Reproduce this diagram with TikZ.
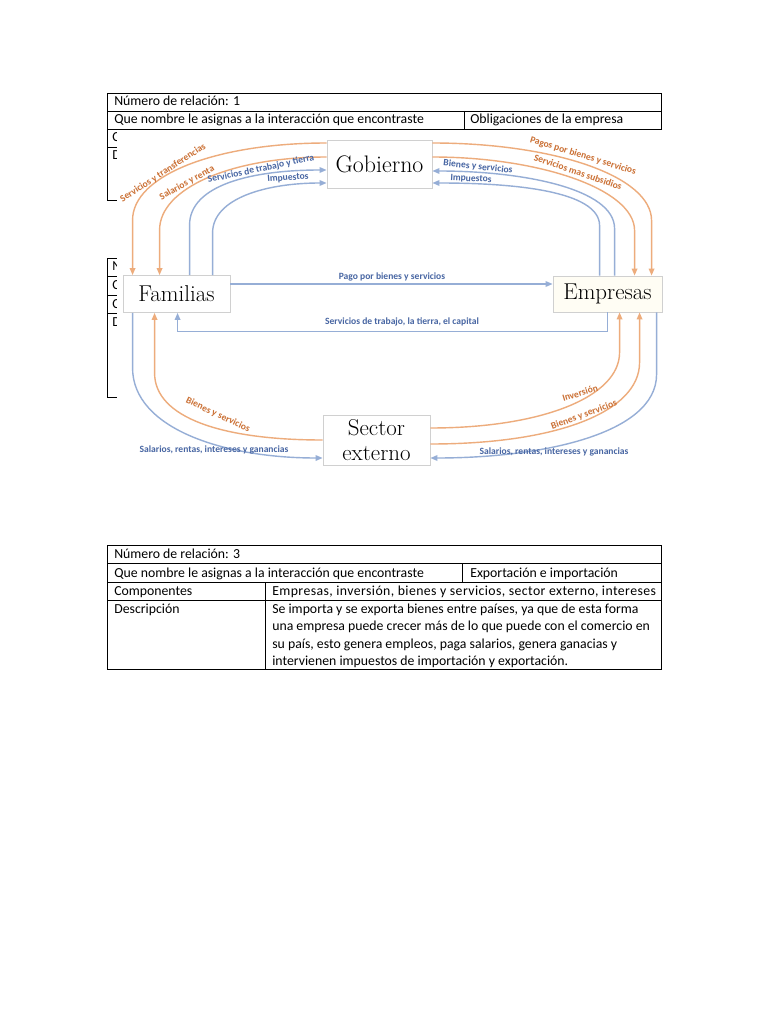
\documentclass[tikz,border=0pt]{standalone}
\usepackage{fontspec}
\newfontfamily\calfont{Carlito}
\usetikzlibrary{calc,arrows.meta}
\definecolor{FlowOrange}{RGB}{237,172,124}
\definecolor{LabOrange}{RGB}{203,112,52}
\definecolor{FlowBlue}{RGB}{150,174,214}
\definecolor{LabBlue}{RGB}{72,102,163}
\definecolor{BoxLine}{RGB}{208,208,208}
\definecolor{BoxCream}{RGB}{255,253,244}

\begin{document}
\begin{tikzpicture}[x=0.025cm,y=0.025cm,
  grid/.style={draw=black,line width=0.6pt},
  cell/.style={anchor=base west,inner sep=0,font=\calfont\fontsize{9.8}{12.4}\selectfont},
  sbox/.style={draw=BoxLine,fill=white,line width=0.6pt,inner sep=0,align=center,font=\fontsize{16.3}{18}\selectfont},
  oarr/.style={-{Triangle[length=5pt,width=4pt]},draw=FlowOrange,line width=1pt},
  barr/.style={-{Triangle[length=5pt,width=4pt]},draw=FlowBlue,line width=1pt},
  olab/.style={text=LabOrange,inner sep=0,font=\calfont\bfseries\fontsize{6.8}{8}\selectfont},
  blab/.style={text=LabBlue,inner sep=0,font=\calfont\bfseries\fontsize{6.8}{8}\selectfont}]
  \useasboundingbox (0,0) rectangle (768,-1024);
  \fill[white] (0,0) rectangle (768,-1024);

  % table 1, behind the picture
  \draw[grid] (107,-93) rectangle (661,-129);
  \draw[grid] (107,-111) -- (661,-111);
  \draw[grid] (464,-111) -- (464,-129);
  \draw[grid] (107,-129) -- (107,-200) -- (130,-200);
  \draw[grid] (107,-147) -- (130,-147);
  \node[cell] (t1num) at (114,-106) {Número de relación: 1};
  \node[cell] (t1que) at (114,-124) {Que nombre le asignas a la interacción que encontraste};
  \node[cell] (t1obl) at (470,-124) {Obligaciones de la empresa};
  \node[cell] (t1c) at (112,-142) {C};
  \node[cell] (t1d) at (112,-160) {D};

  % table 2, behind the picture
  \draw[grid] (130,-258) -- (107,-258) -- (107,-397) -- (130,-397);
  \draw[grid] (107,-276.5) -- (130,-276.5);
  \draw[grid] (107,-295) -- (130,-295);
  \draw[grid] (107,-313) -- (130,-313);
  \node[cell] (t2n) at (112,-271) {N};
  \node[cell] (t2c) at (112,-289.5) {C};
  \node[cell] (t2cc) at (112,-308) {C};
  \node[cell] (t2d) at (112,-326) {D};

  % the picture
  \fill[white] (117,-130) rectangle (664,-472);

  \node[sbox,minimum width=2.625cm,minimum height=1.2cm,font=\fontsize{17}{18}\selectfont] (gob) at (379.5,-164) {Gobierno};
  \node[sbox,minimum width=2.675cm,minimum height=0.925cm] (fam) at (176.5,-294) {Familias};
  \node[sbox,minimum width=2.725cm,minimum height=0.9cm,fill=BoxCream] (emp) at (607.5,-294) {Empresas};
  \node[sbox,minimum width=2.675cm,minimum height=1.25cm] (sec) at (376.5,-440) {Sector\\externo};

  % gobierno - familias
  \draw[oarr] ($(gob.west)+(0,21)$) .. controls +(-110,0) and +(0,45) .. ($(fam.north west)+(10,55)$) -- ($(fam.north west)+(10,0)$);
  \draw[oarr] ($(gob.west)+(0,7)$) .. controls +(-95,0) and +(0,42) .. ($(fam.north west)+(37,45)$) -- ($(fam.north west)+(37,0)$);
  \draw[barr] ($(fam.north west)+(67,0)$) -- ++(0,50) .. controls +(0,40) and +(-75,0) .. ($(gob.west)+(0,-6)$);
  \draw[barr] ($(fam.north west)+(90,0)$) -- ++(0,42) .. controls +(0,35) and +(-60,0) .. ($(gob.west)+(0,-19)$);
  \node[olab,rotate=33] (l1) at (163,-173) {Servicios y transferencias};
  \node[olab,rotate=29] (l2) at (187,-183) {Salarios y renta};
  \node[blab,rotate=12] (l3) at (261,-169) {Servicios de trabajo y tierra};
  \node[blab,rotate=4] (l4) at (288,-178) {Impuestos};

  % gobierno - empresas
  \draw[oarr] ($(gob.east)+(0,21)$) .. controls +(120,0) and +(0,45) .. ($(emp.north west)+(99,55)$) -- ($(emp.north west)+(99,0)$);
  \draw[oarr] ($(gob.east)+(0,7)$) .. controls +(105,0) and +(0,42) .. ($(emp.north west)+(82,45)$) -- ($(emp.north west)+(82,0)$);
  \draw[barr] ($(emp.north west)+(62,0)$) -- ++(0,47) .. controls +(0,40) and +(90,0) .. ($(gob.east)+(0,-7)$);
  \draw[barr] ($(emp.north west)+(47,0)$) -- ++(0,50) .. controls +(0,35) and +(80,0) .. ($(gob.east)+(0,-19)$);
  \node[olab,rotate=-17] (l5) at (583,-156) {Pagos por bienes y servicios};
  \node[olab,rotate=-19] (l6) at (578,-172) {Servicios mas subsidios};
  \node[blab,rotate=-6] (l7) at (478,-167) {Bienes y servicios};
  \node[blab,rotate=-3] (l8) at (471,-179) {Impuestos};

  % familias - empresas
  \draw[barr] ($(fam.east)+(0,10)$) -- ($(emp.west)+(0,10)$);
  \draw[barr] ($(emp.south west)+(55,0)$) -- ++(0,-19) -| ($(fam.south west)+(55,0)$);
  \node[blab] (l9) at (392,-277) {Pago por bienes y servicios};
  \node[blab] (l10) at (402,-322) {Servicios de trabajo, la tierra, el capital};

  % sector externo
  \draw[barr] ($(fam.south west)+(10,0)$) -- ++(0,-55) .. controls +(0,-60) and +(-100,0) .. ($(sec.west)+(0,-18)$);
  \draw[oarr] (sec.west) .. controls +(-100,0) and +(0,-45) .. ($(fam.south west)+(32,-60)$) -- ($(fam.south west)+(32,0)$);
  \draw[oarr] ($(sec.east)+(0,12)$) .. controls +(110,0) and +(0,-45) .. ($(emp.south west)+(67,-40)$) -- ($(emp.south west)+(67,0)$);
  \draw[oarr] ($(sec.east)+(0,-4)$) .. controls +(125,0) and +(0,-50) .. ($(emp.south west)+(87,-50)$) -- ($(emp.south west)+(87,0)$);
  \draw[barr] ($(emp.south west)+(104,0)$) -- ++(0,-62) .. controls +(0,-60) and +(110,0) .. ($(sec.east)+(0,-18)$);
  \node[olab,rotate=-25] (l11) at (218,-415) {Bienes y servicios};
  \node[blab] (l12) at (214,-450) {Salarios, rentas, intereses y ganancias};
  \node[olab,rotate=17] (l13) at (580,-393) {Inversión};
  \node[olab,rotate=20] (l14) at (584,-415) {Bienes y servicios};
  \node[blab] (l15) at (554,-452) {Salarios, rentas, intereses y ganancias};

  % table 3
  \draw[grid] (107,-545) rectangle (661,-669);
  \draw[grid] (107,-563.5) -- (661,-563.5);
  \draw[grid] (107,-582) -- (661,-582);
  \draw[grid] (107,-600) -- (661,-600);
  \draw[grid] (462,-563.5) -- (462,-582);
  \draw[grid] (265.5,-582) -- (265.5,-669);
  \node[cell] (t3num) at (114,-558.5) {Número de relación: 3};
  \node[cell] (t3que) at (114,-577) {Que nombre le asignas a la interacción que encontraste};
  \node[cell] (t3exp) at (470,-577) {Exportación e importación};
  \node[cell] (t3com) at (114,-595) {Componentes};
  \node[cell] (t3comtxt) at (272,-595) {\addfontfeatures{LetterSpace=3}Empresas, inversión, bienes y servicios, sector externo, intereses};
  \node[cell] (t3des) at (114,-613) {Descripción};
  \node[cell] (t3l1) at (272,-613) {Se importa y se exporta bienes entre países, ya que de esta forma};
  \node[cell] (t3l2) at (272,-630.5) {una empresa puede crecer más de lo que puede con el comercio en};
  \node[cell] (t3l3) at (272,-648) {su país, esto genera empleos, paga salarios, genera ganacias y};
  \node[cell] (t3l4) at (272,-665.5) {intervienen impuestos de importación y exportación.};
\end{tikzpicture}
\end{document}
